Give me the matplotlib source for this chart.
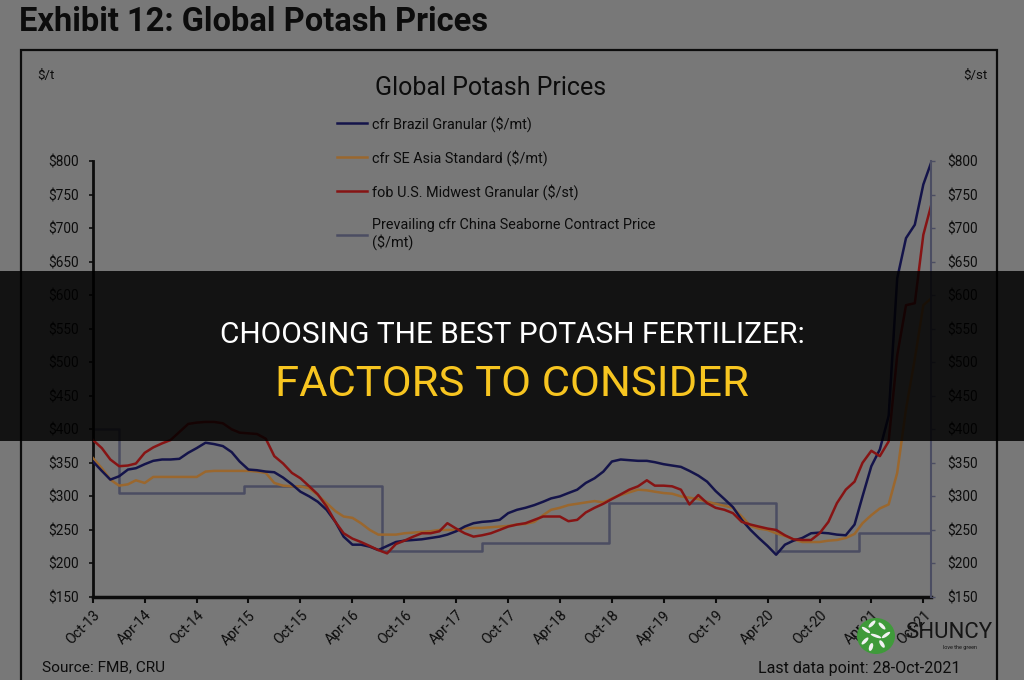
import numpy as np
import pandas as pd
import matplotlib
matplotlib.use('Agg')
import matplotlib.pyplot as plt
import matplotlib.dates as mdates
from matplotlib.patches import Rectangle, Ellipse

# monthly readings, Oct-13 .. Oct-21, last point 28-Oct-2021
dates = pd.date_range('2013-10-01', '2021-10-01', freq='MS').append(pd.DatetimeIndex(['2021-10-28']))

brazil = [352, 338, 325, 330, 340, 342, 348, 353, 355, 355,
          356, 365, 372, 380, 378, 375, 366, 352, 340, 339,
          337, 336, 328, 318, 307, 300, 292, 280, 262, 240,
          228, 228, 225, 220, 226, 232, 234, 235, 236, 238,
          240, 243, 248, 255, 260, 262, 263, 265, 275, 280,
          283, 287, 292, 297, 300, 305, 310, 320, 327, 337,
          352, 355, 354, 353, 353, 351, 348, 346, 344, 338,
          331, 322, 308, 296, 284, 265, 250, 238, 226, 213,
          228, 234, 238, 245, 246, 245, 243, 242, 258, 300,
          345, 370, 420, 625, 685, 705, 765, 797]

se_asia = [357, 342, 325, 316, 318, 324, 320, 329, 329, 329,
           329, 329, 329, 337, 338, 338, 338, 338, 338, 337,
           335, 320, 316, 315, 315, 312, 302, 290, 278, 270,
           268, 260, 250, 243, 243, 243, 245, 246, 247, 248,
           250, 250, 250, 252, 253, 253, 254, 255, 256, 258,
           259, 262, 272, 280, 283, 287, 289, 291, 293, 291,
           297, 302, 306, 310, 309, 307, 305, 304, 300, 298,
           296, 292, 289, 286, 283, 270, 256, 252, 250, 245,
           241, 236, 232, 232, 232, 234, 235, 238, 244, 260,
           272, 282, 288, 335, 430, 505, 585, 595]

midwest = [384, 372, 355, 345, 346, 349, 365, 373, 379, 384,
           396, 408, 410, 411, 411, 409, 400, 395, 394, 393,
           386, 360, 349, 335, 327, 315, 303, 285, 262, 245,
           237, 232, 226, 220, 215, 229, 234, 240, 245, 245,
           248, 260, 252, 245, 240, 242, 245, 250, 255, 258,
           260, 265, 270, 270, 270, 263, 265, 276, 283, 289,
           296, 303, 310, 315, 324, 316, 316, 315, 310, 288,
           302, 290, 283, 280, 275, 262, 258, 255, 252, 250,
           242, 236, 235, 235, 245, 262, 290, 310, 322, 350,
           368, 360, 382, 510, 585, 588, 690, 733]

# China seaborne contract steps
china_dates = pd.to_datetime(['2013-10-01', '2014-01-01', '2015-03-15', '2016-07-15', '2017-07-01',
                              '2018-09-20', '2020-05-01', '2021-02-15', '2021-10-28'])
china = [400, 305, 315, 218, 230, 290, 218, 246, 246]

labels = ['cfr Brazil Granular ($/mt)', 'cfr SE Asia Standard ($/mt)',
          'fob U.S. Midwest Granular ($/st)', 'Prevailing cfr China Seaborne Contract Price\n($/mt)']
yticks = list(range(150, 801, 50))

plt.rcParams['font.family'] = ['Roboto', 'DejaVu Sans']

BG = '#787878'
INK = '#0c0c0c'
NAVY = '#14144a'
ORANGE = '#9a672e'
RED = '#861414'
GREY = '#4b4d62'

fig = plt.figure(figsize=(10.24, 6.8), dpi=100, facecolor=BG)
W, H = 1024, 680

def fx(px): return px / W
def fy(py): return 1 - py / H

# outer frame of the exhibit
fig.add_artist(Rectangle((fx(21), -0.1), fx(997) - fx(21), fy(50) + 0.1, transform=fig.transFigure,
                         fill=False, edgecolor=INK, linewidth=1.6))
fig.text(fx(19), fy(22), 'Exhibit 12: Global Potash Prices', fontsize=23.5, fontweight='bold',
         color=INK, va='center', ha='left')

ax = fig.add_axes([fx(93), fy(597), fx(931) - fx(93), fy(161) - fy(597)])
ax.set_facecolor('none')
ax.plot(dates, brazil, color=NAVY, lw=1.8, label=labels[0], zorder=4)
ax.plot(dates, se_asia, color=ORANGE, lw=1.8, label=labels[1], zorder=3)
ax.plot(dates, midwest, color=RED, lw=1.8, label=labels[2], zorder=5)
ax.step(china_dates, china, where='post', color=GREY, lw=1.8, label=labels[3], zorder=2)

ax.set_ylim(150, 800)
ax.set_xlim(dates[0], dates[-1])
ax.set_yticks(yticks)
ax.set_yticklabels(['$%d' % v for v in yticks])
ax.xaxis.set_major_locator(mdates.MonthLocator(bymonth=[4, 10]))
ax.xaxis.set_major_formatter(mdates.DateFormatter('%b-%y'))
for lab in ax.get_xticklabels():
    lab.set_rotation(45)
    lab.set_ha('right')
    lab.set_va('top')
    lab.set_rotation_mode('anchor')
ax.tick_params(axis='x', direction='out', length=4, width=1.5, color=INK, labelsize=10.2,
               labelcolor=INK, pad=4)
ax.tick_params(axis='y', direction='out', length=3, width=1.2, color=INK, labelsize=9.8,
               labelcolor=INK, pad=7)
ax.spines['top'].set_visible(False)
ax.spines['right'].set_visible(False)
ax.spines['left'].set_linewidth(2)
ax.spines['left'].set_color(INK)
ax.spines['bottom'].set_linewidth(2.5)
ax.spines['bottom'].set_color(INK)

ax2 = ax.twinx()
ax2.set_ylim(150, 800)
ax2.set_yticks(yticks)
ax2.set_yticklabels(['$%d' % v for v in yticks])
ax2.tick_params(axis='y', direction='out', length=3, width=1, color=GREY, labelsize=9.8,
                labelcolor=INK, pad=9)
for s in ['top', 'left', 'bottom']:
    ax2.spines[s].set_visible(False)
ax2.spines['right'].set_color(GREY)
ax2.spines['right'].set_linewidth(1.5)

fig.text(fx(37), fy(75), '$/t', fontsize=9.5, color=INK, va='center', ha='left')
fig.text(fx(988), fy(75), '$/st', fontsize=9.5, color=INK, va='center', ha='right')
fig.text(fx(491), fy(88), 'Global Potash Prices', fontsize=18, color=INK, va='center', ha='center')

leg = ax.legend(loc='upper left', bbox_to_anchor=(fx(337), fy(116)), bbox_transform=fig.transFigure,
                frameon=False, fontsize=10.4, handlelength=2.1, handletextpad=0.35,
                labelspacing=1.25, borderpad=0, borderaxespad=0)
for t in leg.get_texts():
    t.set_color(INK)

fig.text(fx(42), fy(667), 'Source: FMB, CRU', fontsize=11.1, color=INK, va='center', ha='left')
fig.text(fx(961), fy(669), 'Last data point: 28-Oct-2021', fontsize=11.5, color=INK,
         va='center', ha='right')

# dark title banner laid over the chart
fig.add_artist(Rectangle((0, fy(441)), 1, fy(271) - fy(441), transform=fig.transFigure,
                         facecolor='black', alpha=0.84, edgecolor='none', zorder=20))
fig.text(0.5, fy(335), 'CHOOSING THE BEST POTASH FERTILIZER:', fontsize=21.5, color='white',
         ha='center', va='center', zorder=21)
fig.text(0.5, fy(385), 'FACTORS TO CONSIDER', fontsize=31.3, color='#f7c520',
         ha='center', va='center', zorder=21)

# site logo
fig.add_artist(Ellipse((fx(876), fy(636)), fx(38), 36 / H, transform=fig.transFigure,
                       facecolor='#3f9a3a', edgecolor='none', zorder=22))
for dx, dy, a in [(-10, -6, 40), (-4, -12, -30), (6, -10, 30), (10, -1, -40), (-11, 5, -30),
                  (0, 0, 60), (6, 8, 20), (-5, 11, -10)]:
    fig.add_artist(Ellipse((fx(876 + dx), fy(636 + dy)), fx(4), 8 / H, angle=a,
                           transform=fig.transFigure, facecolor='#f2f2f2', edgecolor='none', zorder=23))
fig.text(fx(905), fy(633), 'SHUNCY', fontsize=16, color='#151515', ha='left', va='center', zorder=23)
fig.text(fx(960), fy(647), 'love the green', fontsize=4, color='#151515', ha='center', va='center', zorder=23)

fig.savefig('out.png', dpi=100, facecolor=BG)
